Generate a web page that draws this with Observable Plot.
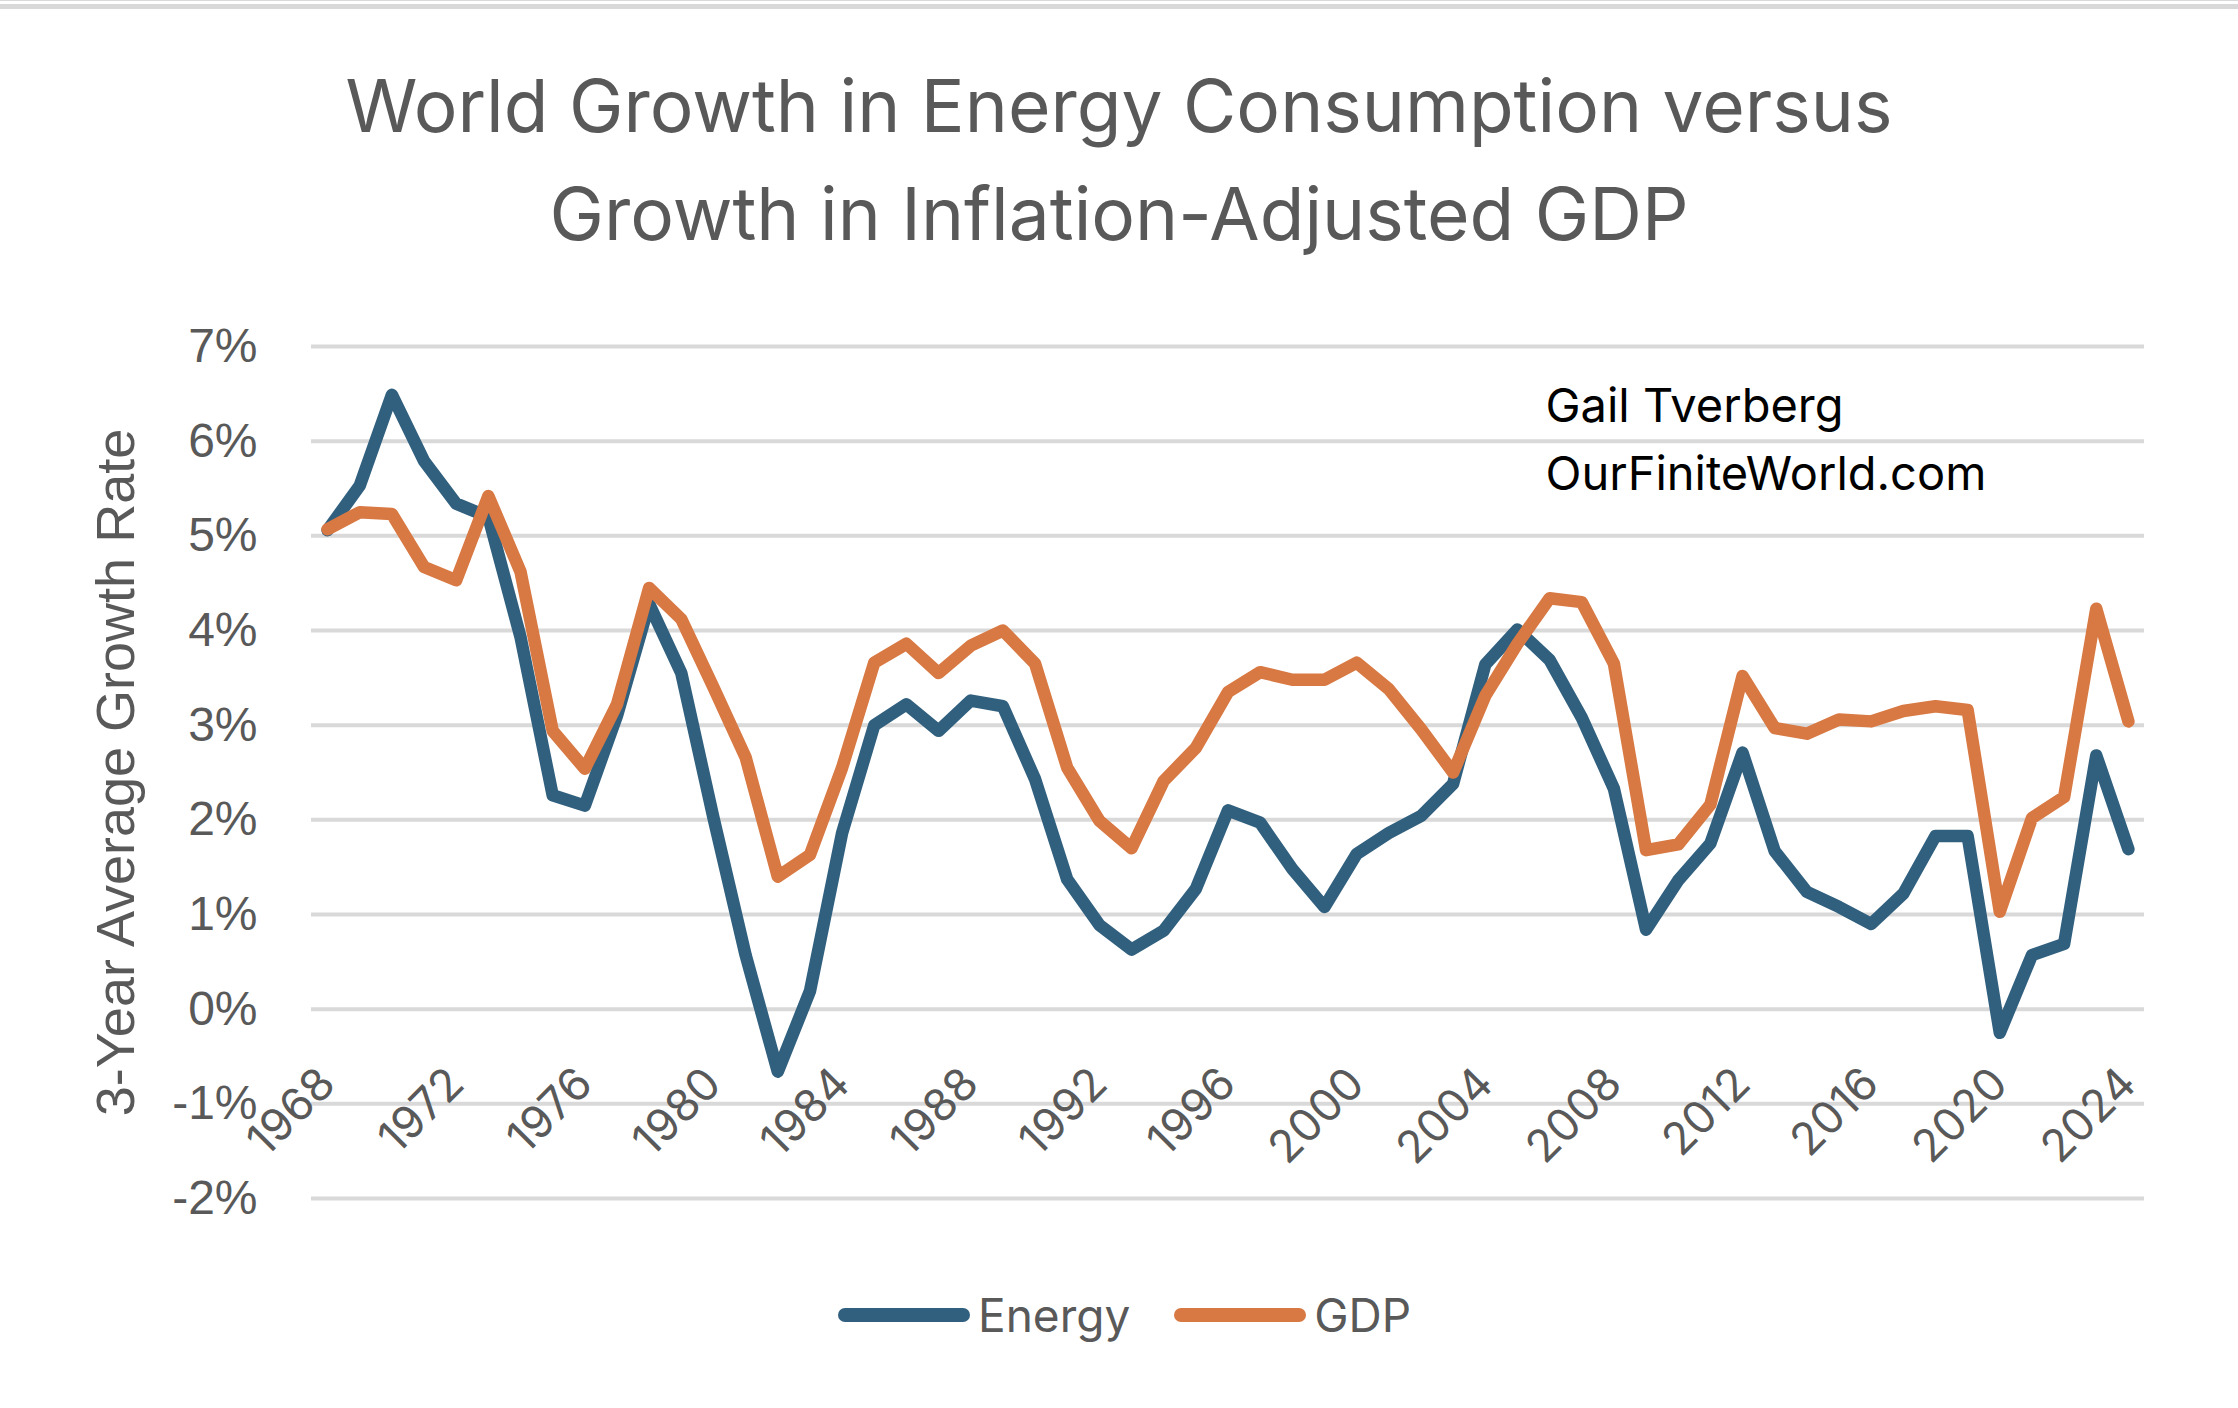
<!DOCTYPE html>
<html>
<head>
<meta charset="utf-8">
<script src="https://cdn.jsdelivr.net/npm/d3@7"></script>
<script src="https://cdn.jsdelivr.net/npm/@observablehq/plot@0.6"></script>
<style>
  html, body { margin: 0; padding: 0; background: #fff; }
  body { width: 2238px; height: 1408px; position: relative; overflow: hidden; font-family: Inter, "Open Sans", sans-serif; }
  #topline1 { position: absolute; left: 0; top: 0; width: 2238px; height: 1px; background: #d9d9d9; }
  #topline2 { position: absolute; left: 0; top: 4px; width: 2238px; height: 5px; background: #d9d9d9; }
  #title { position: absolute; left: 0; top: 52px; width: 2238px; text-align: center; color: #595959;
           font-size: 73px; line-height: 108px; font-family: Inter, sans-serif; }
  #chart { position: absolute; left: 0; top: 300px; }
  #legend { position: absolute; left: 838px; top: 1286px; height: 58px; display: flex; align-items: center;
            font-size: 46px; color: #595959; font-family: Inter, sans-serif; }
  .sw { width: 132px; height: 14px; border-radius: 7px; margin-right: 8px; }
  .item { display: flex; align-items: center; margin-right: 44px; }
</style>
</head>
<body>
<div id="topline1"></div>
<div id="topline2"></div>
<div id="title"></div>
<div id="chart"></div>
<div id="legend"></div>
<script>
const titleLines = ["World Growth in Energy Consumption versus", "Growth in Inflation-Adjusted GDP"];
const yTitle = "3-Year Average Growth Rate";
const note1 = "Gail Tverberg";
const note2 = "OurFiniteWorld.com";
const seriesNames = ["Energy", "GDP"];
const seriesColors = ["#31607f", "#d87842"];

const years = d3.range(1968, 2025);
const energy = [5.06, 5.53, 6.49, 5.79, 5.34, 5.20, 3.93, 2.26, 2.15, 3.10,
                4.28, 3.55, 2.02, 0.57, -0.66, 0.19, 1.86, 3.00, 3.22, 2.94,
                3.26, 3.20, 2.43, 1.37, 0.89, 0.63, 0.83, 1.27, 2.10, 1.97,
                1.48, 1.08, 1.64, 1.86, 2.04, 2.38, 3.64, 4.01, 3.69, 3.08,
                2.33, 0.84, 1.36, 1.75, 2.71, 1.67, 1.24, 1.08, 0.90, 1.22,
                1.83, 1.83, -0.25, 0.57, 0.69, 2.68, 1.69];
const gdp = [5.07, 5.25, 5.23, 4.67, 4.53, 5.42, 4.62, 2.94, 2.54, 3.22,
             4.45, 4.12, 3.40, 2.66, 1.40, 1.63, 2.55, 3.66, 3.86, 3.55,
             3.84, 4.00, 3.65, 2.55, 1.99, 1.70, 2.41, 2.76, 3.35, 3.56,
             3.48, 3.48, 3.66, 3.38, 2.96, 2.50, 3.31, 3.86, 4.34, 4.30,
             3.65, 1.68, 1.74, 2.16, 3.52, 2.97, 2.91, 3.06, 3.04, 3.15,
             3.20, 3.16, 1.03, 2.02, 2.24, 4.23, 3.04];
const yTicks = [-2, -1, 0, 1, 2, 3, 4, 5, 6, 7];
const xTickYears = d3.range(1968, 2025, 4);

document.getElementById("title").innerHTML = titleLines.join("<br>");

const gray = "#595959";
const plot = Plot.plot({
  width: 2238,
  height: 958,
  marginLeft: 311,
  marginRight: 94,
  marginTop: 46,
  marginBottom: 60,
  style: { background: "transparent", fontFamily: "Inter, sans-serif" },
  x: { domain: [1967.5, 2024.5], axis: null },
  y: { domain: [-2, 7], axis: null },
  marks: [
    Plot.gridY(yTicks, { stroke: "#d9d9d9", strokeOpacity: 1, strokeWidth: 4 }),
    Plot.axisY(yTicks, { tickSize: 0, tickPadding: 54, tickFormat: d => `${d}%`, fontSize: 48,
                         fill: gray, label: null, fontFamily: "Liberation Sans, Arial, sans-serif" }),
    Plot.text([yTitle], { text: d => d, frameAnchor: "left", dx: -195, rotate: -90, fontSize: 54,
                          textAnchor: "middle", lineAnchor: "middle",
                          fill: gray, fontFamily: "Liberation Sans, Arial, sans-serif" }),
    Plot.text(xTickYears, { x: d => d, y: () => 0, text: d => String(d), rotate: -45, textAnchor: "end",
                            lineAnchor: "middle", dy: 67, fontSize: 45, fill: gray }),
    Plot.line(energy, { x: (d, i) => years[i], y: d => d, stroke: seriesColors[0], strokeWidth: 12.5,
                        strokeLinejoin: "round", strokeLinecap: "round" }),
    Plot.line(gdp, { x: (d, i) => years[i], y: d => d, stroke: seriesColors[1], strokeWidth: 12.5,
                     strokeLinejoin: "round", strokeLinecap: "round" }),
    Plot.text([note1], { text: d => d, frameAnchor: "top-left", dx: 1234, dy: 75, lineAnchor: "bottom",
                         textAnchor: "start", fontSize: 47, fill: "#000" }),
    Plot.text([note2], { text: d => d, frameAnchor: "top-left", dx: 1234, dy: 143, lineAnchor: "bottom",
                         textAnchor: "start", fontSize: 47, fill: "#000" })
  ]
});
document.getElementById("chart").appendChild(plot);

const legend = document.getElementById("legend");
seriesNames.forEach((name, i) => {
  const item = document.createElement("div");
  item.className = "item";
  const sw = document.createElement("div");
  sw.className = "sw";
  sw.style.background = seriesColors[i];
  const label = document.createElement("span");
  label.textContent = name;
  item.appendChild(sw);
  item.appendChild(label);
  legend.appendChild(item);
});
</script>
</body>
</html>
